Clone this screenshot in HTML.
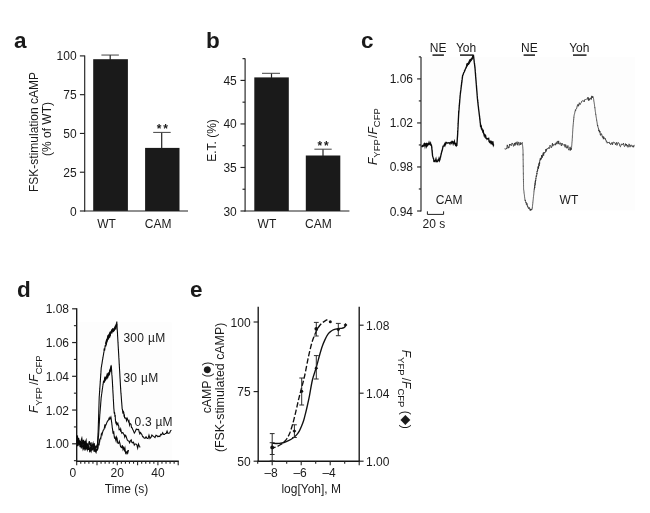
<!DOCTYPE html>
<html><head><meta charset="utf-8"><title>Figure</title>
<style>html,body{margin:0;padding:0;background:#fff}svg{display:block}</style></head>
<body>
<svg width="650" height="513" viewBox="0 0 650 513" font-family="&quot;Liberation Sans&quot;, sans-serif" fill="#1a1a1a">
<rect width="650" height="513" fill="#fff"/>
<rect x="421.5" y="57" width="213.3" height="153.5" fill="#fdfdfd"/>
<rect x="77.3" y="322.2" width="94.4" height="138.4" fill="#fdfdfd"/>
<text x="14.00" y="47.60" font-size="22.5" text-anchor="start" font-weight="bold" >a</text>
<text x="206.00" y="47.60" font-size="22.5" text-anchor="start" font-weight="bold" >b</text>
<text x="361.00" y="47.60" font-size="22.5" text-anchor="start" font-weight="bold" >c</text>
<text x="17.00" y="296.60" font-size="22.5" text-anchor="start" font-weight="bold" >d</text>
<text x="190.00" y="296.60" font-size="22.5" text-anchor="start" font-weight="bold" >e</text>
<line x1="84.70" y1="55.40" x2="84.70" y2="211.50" stroke="#222" stroke-width="1.15" />
<line x1="84.20" y1="211.00" x2="188.00" y2="211.00" stroke="#222" stroke-width="1.15" />
<line x1="79.90" y1="211.00" x2="84.70" y2="211.00" stroke="#222" stroke-width="1.15" />
<text x="76.60" y="215.50" font-size="12" text-anchor="end" >0</text>
<line x1="79.90" y1="172.22" x2="84.70" y2="172.22" stroke="#222" stroke-width="1.15" />
<text x="76.60" y="176.72" font-size="12" text-anchor="end" >25</text>
<line x1="79.90" y1="133.45" x2="84.70" y2="133.45" stroke="#222" stroke-width="1.15" />
<text x="76.60" y="137.95" font-size="12" text-anchor="end" >50</text>
<line x1="79.90" y1="94.67" x2="84.70" y2="94.67" stroke="#222" stroke-width="1.15" />
<text x="76.60" y="99.17" font-size="12" text-anchor="end" >75</text>
<line x1="79.90" y1="55.90" x2="84.70" y2="55.90" stroke="#222" stroke-width="1.15" />
<text x="76.60" y="60.40" font-size="12" text-anchor="end" >100</text>
<rect x="93.2" y="59.2" width="34.7" height="151.70" fill="#1a1a1a"/>
<rect x="145.1" y="147.9" width="34.4" height="63.10" fill="#1a1a1a"/>
<line x1="110.20" y1="55.00" x2="110.20" y2="60.00" stroke="#222" stroke-width="1.2" />
<line x1="101.40" y1="55.05" x2="118.90" y2="55.05" stroke="#444" stroke-width="1" />
<line x1="161.70" y1="132.40" x2="161.70" y2="148.50" stroke="#222" stroke-width="1.2" />
<line x1="153.20" y1="132.40" x2="170.70" y2="132.40" stroke="#444" stroke-width="1" />
<text x="156.80" y="132.70" font-size="12" text-anchor="start" font-weight="bold" letter-spacing="1.7">**</text>
<text x="106.50" y="227.70" font-size="12" text-anchor="middle" >WT</text>
<text x="158.20" y="227.70" font-size="12" text-anchor="middle" >CAM</text>
<text transform="translate(37.60,132.00) rotate(-90)" font-size="12" text-anchor="middle">FSK-stimulation cAMP</text>
<text transform="translate(51.40,129.00) rotate(-90)" font-size="12" text-anchor="middle">(% of WT)</text>
<line x1="245.10" y1="58.40" x2="245.10" y2="211.50" stroke="#222" stroke-width="1.15" />
<line x1="244.60" y1="211.00" x2="349.40" y2="211.00" stroke="#222" stroke-width="1.15" />
<line x1="240.50" y1="211.00" x2="245.10" y2="211.00" stroke="#222" stroke-width="1.15" />
<text x="236.80" y="215.50" font-size="12" text-anchor="end" >30</text>
<line x1="240.50" y1="167.47" x2="245.10" y2="167.47" stroke="#222" stroke-width="1.15" />
<text x="236.80" y="171.97" font-size="12" text-anchor="end" >35</text>
<line x1="240.50" y1="123.94" x2="245.10" y2="123.94" stroke="#222" stroke-width="1.15" />
<text x="236.80" y="128.44" font-size="12" text-anchor="end" >40</text>
<line x1="240.50" y1="80.41" x2="245.10" y2="80.41" stroke="#222" stroke-width="1.15" />
<text x="236.80" y="84.91" font-size="12" text-anchor="end" >45</text>
<line x1="242.50" y1="189.24" x2="245.10" y2="189.24" stroke="#222" stroke-width="1.15" />
<line x1="242.50" y1="145.70" x2="245.10" y2="145.70" stroke="#222" stroke-width="1.15" />
<line x1="242.50" y1="102.17" x2="245.10" y2="102.17" stroke="#222" stroke-width="1.15" />
<line x1="242.50" y1="58.65" x2="245.10" y2="58.65" stroke="#222" stroke-width="1.15" />
<rect x="254.3" y="77.4" width="34.5" height="133.60" fill="#1a1a1a"/>
<rect x="305.8" y="155.5" width="34.5" height="55.50" fill="#1a1a1a"/>
<line x1="271.50" y1="73.30" x2="271.50" y2="78.00" stroke="#222" stroke-width="1.2" />
<line x1="262.00" y1="73.30" x2="280.00" y2="73.30" stroke="#444" stroke-width="1" />
<line x1="323.00" y1="149.20" x2="323.00" y2="156.00" stroke="#222" stroke-width="1.2" />
<line x1="314.40" y1="149.20" x2="331.70" y2="149.20" stroke="#444" stroke-width="1" />
<text x="317.60" y="149.70" font-size="12" text-anchor="start" font-weight="bold" letter-spacing="1.7">**</text>
<text x="266.90" y="227.70" font-size="12" text-anchor="middle" >WT</text>
<text x="318.40" y="227.70" font-size="12" text-anchor="middle" >CAM</text>
<text transform="translate(215.80,140.50) rotate(-90)" font-size="12" text-anchor="middle">E.T. (%)</text>
<line x1="421.00" y1="56.90" x2="421.00" y2="211.50" stroke="#222" stroke-width="1.15" />
<line x1="417.10" y1="211.00" x2="421.00" y2="211.00" stroke="#222" stroke-width="1.15" />
<text x="413.00" y="215.50" font-size="12" text-anchor="end" >0.94</text>
<line x1="417.10" y1="166.97" x2="421.00" y2="166.97" stroke="#222" stroke-width="1.15" />
<text x="413.00" y="171.47" font-size="12" text-anchor="end" >0.98</text>
<line x1="417.10" y1="122.94" x2="421.00" y2="122.94" stroke="#222" stroke-width="1.15" />
<text x="413.00" y="127.44" font-size="12" text-anchor="end" >1.02</text>
<line x1="417.10" y1="78.91" x2="421.00" y2="78.91" stroke="#222" stroke-width="1.15" />
<text x="413.00" y="83.41" font-size="12" text-anchor="end" >1.06</text>
<line x1="418.80" y1="188.98" x2="421.00" y2="188.98" stroke="#222" stroke-width="1.15" />
<line x1="418.80" y1="144.95" x2="421.00" y2="144.95" stroke="#222" stroke-width="1.15" />
<line x1="418.80" y1="100.92" x2="421.00" y2="100.92" stroke="#222" stroke-width="1.15" />
<line x1="418.80" y1="56.89" x2="421.00" y2="56.89" stroke="#222" stroke-width="1.15" />
<text transform="translate(376.70,165.00) rotate(-90)" font-size="12" text-anchor="start"><tspan font-style="italic">F</tspan><tspan font-size="9.5" dy="3.5">YFP</tspan><tspan dy="-3.5" dx="1.3">/</tspan><tspan font-style="italic">F</tspan><tspan font-size="9.5" dy="3.5">CFP</tspan></text>
<text x="438.20" y="51.90" font-size="12" text-anchor="middle" >NE</text>
<line x1="432.50" y1="55.10" x2="443.90" y2="55.10" stroke="#1a1a1a" stroke-width="1.5" />
<text x="466.00" y="51.90" font-size="12" text-anchor="middle" >Yoh</text>
<line x1="460.00" y1="55.10" x2="473.50" y2="55.10" stroke="#1a1a1a" stroke-width="1.5" />
<text x="529.40" y="51.90" font-size="12" text-anchor="middle" >NE</text>
<line x1="523.60" y1="55.10" x2="535.00" y2="55.10" stroke="#1a1a1a" stroke-width="1.5" />
<text x="579.30" y="51.90" font-size="12" text-anchor="middle" >Yoh</text>
<line x1="573.00" y1="55.10" x2="586.50" y2="55.10" stroke="#1a1a1a" stroke-width="1.5" />
<text x="449.10" y="203.50" font-size="12" text-anchor="middle" >CAM</text>
<text x="568.90" y="203.50" font-size="12" text-anchor="middle" >WT</text>
<polyline points="427.4,211.3 427.4,214.4 443.6,214.4 443.6,211.3" fill="none" stroke="#222" stroke-width="1"/>
<text x="433.90" y="227.70" font-size="12" text-anchor="middle" >20 s</text>
<polyline points="421.60,145.61 422.09,146.44 422.58,145.64 423.07,146.22 423.56,146.08 424.04,143.97 424.53,143.58 425.02,146.17 425.51,143.99 426.00,143.70 426.51,146.13 427.02,144.19 427.53,145.28 428.04,143.90 428.56,144.30 429.07,142.48 429.58,143.97 430.09,144.61 430.60,143.21 430.80,143.90 431.00,144.42 431.20,144.62 431.40,145.59 431.60,146.05 431.65,146.38 431.70,146.72 431.75,147.72 431.80,147.98 431.85,148.63 431.90,149.23 431.95,149.63 432.00,150.25 432.05,150.44 432.10,151.18 432.15,151.47 432.20,152.26 432.25,152.73 432.30,152.76 432.35,153.28 432.40,153.83 432.45,154.78 432.50,154.96 432.55,155.58 432.60,155.88 432.76,156.48 432.93,156.88 433.09,157.34 433.25,157.95 433.41,158.43 433.57,159.09 433.74,159.43 433.90,161.26 434.42,161.08 434.93,161.60 435.45,160.58 435.97,158.92 436.48,161.36 437.00,161.78 437.50,161.41 438.00,160.10 438.50,160.43 439.00,158.55 439.50,160.49 440.00,159.24 440.12,158.55 440.24,157.90 440.36,157.85 440.48,157.41 440.60,156.35 440.72,156.26 440.84,155.51 440.96,154.83 441.08,154.40 441.20,154.16 441.33,153.72 441.46,152.73 441.59,152.57 441.71,151.73 441.84,151.63 441.97,150.90 442.10,150.73 442.23,150.29 442.36,149.50 442.49,149.30 442.61,148.39 442.74,147.75 442.87,147.56 443.00,146.25 443.32,146.10 443.64,146.01 443.96,145.92 444.28,144.77 444.60,144.17 444.92,145.07 445.24,143.76 445.56,144.37 445.88,143.85 446.20,142.38 446.74,142.61 447.29,142.75 447.83,143.12 448.37,142.90 448.91,142.72 449.46,142.87 450.00,143.90 450.53,142.39 451.07,142.10 451.60,143.05 452.13,141.37 452.67,141.56 453.20,143.82 453.60,142.63 454.00,143.08 454.40,141.62 454.80,143.35 455.20,144.27 455.52,142.77 455.84,145.19 456.16,145.65 456.48,144.10 456.80,146.08 456.84,145.48 456.87,145.11 456.91,144.41 456.95,144.12 456.98,143.64 457.02,142.71 457.05,142.24 457.09,142.11 457.13,141.78 457.16,140.85 457.20,140.47 457.24,140.06 457.27,139.39 457.31,138.92 457.35,138.39 457.38,137.92 457.42,137.56 457.45,136.88 457.49,136.43 457.53,136.16 457.56,135.22 457.60,135.04 457.63,134.64 457.65,133.88 457.68,133.32 457.70,133.16 457.73,132.32 457.75,131.78 457.78,131.43 457.80,131.08 457.83,130.22 457.86,129.85 457.88,129.35 457.91,129.14 457.93,128.40 457.96,128.15 457.98,127.23 458.01,126.83 458.03,126.51 458.06,126.15 458.09,125.38 458.11,124.74 458.14,124.17 458.16,123.92 458.19,123.21 458.21,123.07 458.24,122.59 458.27,121.69 458.29,121.24 458.32,121.05 458.34,120.45 458.37,120.04 458.39,119.26 458.42,118.63 458.44,118.22 458.47,118.02 458.50,117.20 458.52,116.74 458.55,116.28 458.57,115.78 458.60,115.26 458.62,115.07 458.65,114.10 458.67,113.51 458.70,113.57 458.74,113.02 458.78,112.58 458.82,111.74 458.87,111.54 458.91,111.01 458.95,110.08 458.99,109.89 459.03,109.44 459.07,108.82 459.12,108.23 459.16,107.58 459.20,107.10 459.24,106.53 459.28,105.92 459.32,105.73 459.37,105.04 459.41,104.84 459.45,103.88 459.49,103.88 459.53,103.25 459.57,102.88 459.62,102.35 459.66,101.85 459.70,101.15 459.74,100.30 459.78,100.23 459.82,99.38 459.87,98.95 459.91,98.66 459.95,98.06 459.99,97.49 460.03,97.30 460.07,96.59 460.12,95.92 460.16,95.36 460.20,95.22 460.26,94.48 460.33,94.16 460.39,93.40 460.45,92.81 460.52,92.51 460.58,92.17 460.64,91.28 460.71,91.15 460.77,90.73 460.83,90.16 460.89,89.67 460.96,88.67 461.02,88.54 461.08,88.18 461.15,87.19 461.21,86.82 461.27,86.32 461.34,85.97 461.40,85.40 461.46,84.93 461.53,84.61 461.59,83.64 461.65,83.17 461.72,82.71 461.78,82.21 461.84,81.67 461.91,81.71 461.97,81.14 462.03,80.18 462.09,79.92 462.16,79.31 462.22,78.80 462.28,78.32 462.35,78.00 462.41,77.46 462.47,76.82 462.54,76.22 462.60,75.76 462.79,75.11 462.98,74.96 463.17,74.60 463.36,73.84 463.55,73.11 463.74,72.70 463.93,72.37 464.12,72.06 464.31,71.72 464.50,70.88 464.72,70.83 464.94,70.19 465.17,69.53 465.39,69.01 465.61,68.66 465.83,68.40 466.06,67.65 466.28,67.46 466.50,66.75 466.79,66.04 467.08,65.94 467.38,65.68 467.67,64.49 467.96,64.46 468.25,64.01 468.54,64.11 468.83,63.72 469.12,62.60 469.42,62.78 469.71,62.20 470.00,61.11 470.27,60.93 470.54,60.09 470.81,60.48 471.08,59.87 471.35,59.71 471.62,59.17 471.88,58.59 472.15,58.23 472.42,57.60 472.69,56.62 472.96,56.77 473.23,55.64 473.50,55.59 473.56,56.47 473.62,56.54 473.69,57.08 473.75,57.59 473.81,58.57 473.88,58.66 473.94,59.07 474.00,60.07 474.06,60.15 474.12,61.09 474.19,61.50 474.25,62.10 474.31,62.68 474.38,62.96 474.44,63.60 474.50,63.66 474.56,64.60 474.62,64.96 474.69,65.59 474.75,65.73 474.81,66.62 474.88,67.24 474.94,67.23 475.00,67.89 475.04,68.54 475.08,69.20 475.12,69.35 475.16,69.81 475.20,70.35 475.24,71.07 475.28,71.65 475.32,71.94 475.36,72.42 475.40,72.94 475.44,73.41 475.48,73.95 475.52,74.25 475.56,75.00 475.60,75.78 475.64,75.95 475.68,76.65 475.72,76.80 475.76,77.61 475.80,78.15 475.84,78.60 475.88,79.01 475.92,79.49 475.96,80.09 476.00,80.74 476.04,80.79 476.08,81.26 476.12,82.15 476.16,82.75 476.20,83.01 476.24,83.47 476.28,84.13 476.32,84.31 476.36,84.86 476.40,85.32 476.44,86.05 476.48,86.39 476.52,86.84 476.56,87.61 476.60,88.27 476.64,88.38 476.68,89.12 476.72,89.45 476.76,90.21 476.80,90.55 476.84,90.86 476.88,91.33 476.92,91.71 476.96,92.49 477.00,92.93 477.04,93.30 477.08,93.92 477.12,94.39 477.16,95.16 477.20,95.29 477.24,96.29 477.28,96.49 477.32,97.06 477.36,97.48 477.40,98.20 477.45,98.69 477.51,99.03 477.56,99.49 477.61,100.13 477.67,100.71 477.72,100.94 477.77,101.64 477.83,102.28 477.88,102.48 477.93,102.84 477.99,103.34 478.04,104.13 478.09,104.61 478.15,105.28 478.20,105.71 478.26,105.85 478.32,106.31 478.38,106.86 478.44,107.31 478.50,108.12 478.56,108.72 478.62,109.24 478.68,109.35 478.74,110.22 478.80,110.39 478.86,110.95 478.92,111.64 478.98,111.75 479.04,112.26 479.10,113.20 479.16,113.38 479.22,113.91 479.28,114.55 479.34,115.11 479.40,115.20 479.46,115.90 479.52,116.46 479.58,116.99 479.64,117.33 479.70,118.05 479.76,118.77 479.81,118.93 479.87,119.53 479.93,119.77 479.99,120.36 480.04,121.10 480.10,121.27 480.16,122.23 480.21,122.75 480.27,122.76 480.33,123.76 480.39,123.92 480.44,124.66 480.50,125.41 480.67,125.17 480.85,126.28 481.02,126.75 481.19,127.49 481.36,127.12 481.54,128.41 481.71,129.24 481.88,129.28 482.05,129.56 482.23,129.38 482.40,130.48 482.60,130.55 482.80,132.03 483.00,132.38 483.20,132.53 483.40,131.91 483.60,133.67 483.80,134.09 484.00,133.28 484.20,135.73 484.40,135.72 484.72,134.03 485.05,137.70 485.38,134.98 485.70,136.18 486.02,138.17 486.35,138.11 486.68,138.38 487.00,139.25 487.41,138.80 487.83,138.55 488.24,138.33 488.66,138.24 489.07,141.48 489.49,142.03 489.90,141.47 490.29,142.58 490.68,141.38 491.07,141.32 491.46,142.11 491.85,144.39 492.24,141.39 492.63,143.56 493.02,142.85 493.41,145.26 493.80,144.50" fill="none" stroke="#0a0a0a" stroke-width="1.35" stroke-linejoin="miter" stroke-miterlimit="5" />
<polygon points="465.6,68.6 466.3,63.6 468.2,62.4 469.2,59.6 471.2,58.6 473.6,55.2 473.4,58.4 470,62.2 467.6,65.6" fill="#111"/>
<polyline points="504.50,148.72 504.96,148.99 505.42,148.99 505.88,149.38 506.33,148.31 506.79,148.85 507.25,144.87 507.71,146.48 508.17,148.26 508.62,146.80 509.08,147.63 509.54,144.10 510.00,145.37 510.50,144.31 511.00,145.43 511.50,145.44 512.00,142.96 512.50,143.69 513.00,143.82 513.50,146.37 514.00,145.62 514.50,142.95 515.00,145.50 515.50,142.61 516.00,144.49 516.52,142.32 517.05,141.69 517.58,145.23 518.10,142.35 518.62,142.26 519.15,145.38 519.67,144.81 520.20,142.25 520.72,144.96 521.25,143.08 521.77,143.56 522.30,142.46 522.35,143.57 522.40,143.90 522.45,144.64 522.50,145.10 522.55,145.15 522.60,145.72 522.65,146.08 522.70,146.59 522.75,147.04 522.80,147.76 522.85,148.52 522.90,148.56 522.95,149.62 523.00,149.87 523.01,150.35 523.02,151.25 523.02,151.48 523.03,151.85 523.04,152.48 523.05,153.16 523.05,153.15 523.06,154.38 523.07,154.12 523.08,155.20 523.08,155.78 523.09,155.61 523.10,156.73 523.11,156.89 523.12,157.56 523.12,157.61 523.13,158.14 523.14,158.74 523.15,159.86 523.15,159.76 523.16,160.70 523.17,161.34 523.18,161.85 523.18,161.88 523.19,162.38 523.20,163.02 523.21,163.72 523.22,163.69 523.22,164.70 523.23,165.24 523.24,165.79 523.25,165.63 523.25,166.86 523.26,166.67 523.27,167.37 523.28,168.09 523.28,168.83 523.29,168.87 523.30,169.84 523.31,170.04 523.32,170.35 523.32,170.85 523.33,171.24 523.34,171.66 523.35,172.22 523.35,173.15 523.36,173.90 523.37,173.73 523.38,174.14 523.38,175.39 523.39,175.53 523.40,175.92 523.41,176.29 523.42,177.08 523.42,177.76 523.43,177.96 523.44,178.44 523.45,178.64 523.45,179.83 523.46,179.63 523.47,180.49 523.48,181.27 523.48,181.20 523.49,182.19 523.50,182.86 523.51,183.10 523.52,183.73 523.52,183.69 523.53,184.45 523.54,184.72 523.55,185.78 523.55,185.84 523.56,186.46 523.57,187.40 523.58,187.78 523.58,188.38 523.59,188.46 523.60,188.99 523.66,189.68 523.73,189.98 523.79,190.33 523.85,190.92 523.92,191.22 523.98,191.90 524.05,192.89 524.11,193.37 524.17,193.60 524.24,194.00 524.30,194.37 524.36,194.67 524.43,195.32 524.49,196.23 524.55,196.79 524.62,196.89 524.68,197.73 524.75,198.22 524.81,198.66 524.87,199.13 524.94,199.71 525.00,199.62 525.19,201.03 525.38,200.31 525.58,201.34 525.77,202.60 525.96,202.84 526.15,202.19 526.35,204.48 526.54,204.11 526.73,204.38 526.92,203.25 527.12,205.21 527.31,204.84 527.50,206.72 527.83,206.23 528.17,208.11 528.50,207.79 528.83,208.81 529.17,207.31 529.50,208.94 529.83,209.72 530.17,210.49 530.50,208.87 530.82,210.49 531.13,210.15 531.45,208.94 531.77,209.70 532.08,209.17 532.40,206.81 532.46,206.31 532.51,205.51 532.57,205.54 532.62,205.11 532.68,204.23 532.73,203.89 532.79,203.40 532.84,202.90 532.90,201.94 532.95,201.92 533.01,201.25 533.06,200.81 533.12,200.10 533.17,199.75 533.23,199.36 533.28,198.74 533.34,198.30 533.39,197.24 533.45,196.83 533.50,196.55 533.56,196.20 533.61,195.35 533.67,195.21 533.72,194.66 533.78,193.67 533.83,193.51 533.89,192.80 533.94,192.15 534.00,190.97 534.07,190.98 534.14,190.09 534.21,189.61 534.28,188.66 534.35,189.35 534.42,188.60 534.49,188.74 534.56,188.16 534.63,186.67 534.70,188.02 534.77,184.98 534.84,185.60 534.91,184.74 534.99,184.59 535.06,183.26 535.13,184.75 535.20,182.96 535.27,181.50 535.34,182.61 535.41,180.64 535.48,181.39 535.55,180.31 535.62,180.47 535.69,181.02 535.76,180.11 535.83,178.48 535.90,179.08 536.00,178.09 536.11,176.81 536.22,175.67 536.32,176.43 536.42,175.83 536.53,176.42 536.63,175.94 536.74,174.42 536.85,173.19 536.95,174.20 537.05,171.19 537.16,170.98 537.26,171.75 537.37,171.38 537.48,169.54 537.58,170.40 537.68,170.63 537.79,168.67 537.89,168.32 538.00,166.85 538.13,166.62 538.27,168.98 538.40,166.00 538.53,167.94 538.67,167.24 538.80,165.40 538.93,163.49 539.07,166.02 539.20,163.48 539.33,162.65 539.47,161.74 539.60,164.03 539.73,161.47 539.87,160.10 540.00,160.40 540.23,158.45 540.46,160.09 540.69,158.88 540.92,157.78 541.15,159.38 541.38,159.10 541.62,155.22 541.85,156.94 542.08,155.40 542.31,157.71 542.54,156.61 542.77,153.89 543.00,153.52 543.32,152.63 543.63,155.72 543.95,152.38 544.27,153.29 544.58,152.31 544.90,152.61 545.22,152.02 545.53,152.19 545.85,149.15 546.17,151.43 546.48,149.08 546.80,149.64 547.20,148.50 547.60,148.03 548.00,148.70 548.40,148.12 548.80,147.38 549.20,148.68 549.60,147.73 550.00,145.09 550.40,145.69 550.80,146.24 551.20,147.86 551.60,147.44 552.00,145.69 552.44,143.21 552.88,146.16 553.32,144.43 553.75,144.80 554.19,145.11 554.63,144.53 555.07,143.65 555.51,145.20 555.95,142.73 556.38,142.51 556.82,144.19 557.26,141.18 557.70,141.35 558.18,143.84 558.66,140.89 559.13,144.38 559.61,144.04 560.09,143.20 560.57,142.84 561.04,145.17 561.52,145.97 562.00,143.00 562.45,144.64 562.91,145.16 563.36,145.17 563.82,144.70 564.27,144.18 564.73,146.22 565.18,147.40 565.64,144.51 566.09,145.41 566.55,148.12 567.00,148.23 567.44,147.94 567.88,145.51 568.32,148.68 568.76,150.01 569.20,150.34 569.64,149.35 570.08,146.86 570.52,150.44 570.96,148.07 571.40,149.62 571.44,149.36 571.48,148.67 571.53,147.71 571.57,147.33 571.61,147.33 571.65,146.22 571.69,146.09 571.74,145.43 571.78,144.73 571.82,144.60 571.86,143.63 571.91,143.19 571.95,142.90 571.99,142.16 572.03,141.65 572.07,141.56 572.12,141.19 572.16,140.80 572.20,139.71 572.23,139.45 572.26,138.85 572.29,138.58 572.32,137.99 572.35,137.85 572.38,136.90 572.40,136.14 572.43,136.16 572.46,135.22 572.49,135.11 572.52,134.50 572.55,134.33 572.58,133.54 572.61,133.10 572.64,132.31 572.67,132.04 572.70,131.30 572.73,131.20 572.75,130.51 572.78,129.71 572.81,129.29 572.84,128.90 572.87,128.69 572.90,127.74 572.95,127.67 572.99,127.12 573.04,126.17 573.08,126.13 573.13,125.17 573.17,124.70 573.22,124.58 573.27,123.79 573.31,123.80 573.36,122.98 573.40,122.36 573.45,122.24 573.50,121.12 573.54,121.18 573.59,120.14 573.63,119.72 573.68,119.86 573.73,119.14 573.77,118.28 573.82,117.69 573.86,117.88 573.91,117.13 573.95,116.76 574.00,115.71 574.12,115.60 574.23,114.88 574.35,114.29 574.47,113.87 574.58,113.59 574.70,112.88 574.82,112.41 574.93,111.71 575.05,111.76 575.17,111.12 575.28,110.74 575.40,109.81 575.66,110.55 575.92,109.18 576.17,108.96 576.43,108.47 576.69,108.51 576.95,107.11 577.21,105.84 577.47,105.23 577.73,105.27 577.98,104.38 578.24,106.32 578.50,104.75 578.92,105.20 579.34,102.73 579.77,103.72 580.19,104.56 580.61,103.47 581.03,102.60 581.46,102.37 581.88,101.01 582.30,100.83 582.77,100.61 583.25,100.98 583.72,100.78 584.20,101.93 584.67,99.66 585.15,99.71 585.62,99.54 586.10,98.99 586.58,99.10 587.05,98.73 587.52,99.18 588.00,97.03 588.47,100.59 588.95,98.07 589.42,100.27 589.89,99.02 590.36,98.78 590.84,97.74 591.31,99.53 591.78,95.87 592.25,97.99 592.73,96.21 593.20,97.04 593.28,97.59 593.37,97.65 593.45,98.19 593.53,98.55 593.62,99.23 593.70,99.61 593.78,100.38 593.87,101.35 593.95,101.37 594.03,101.83 594.12,102.47 594.20,102.83 594.27,103.69 594.34,104.17 594.40,104.23 594.47,104.79 594.54,105.64 594.61,106.35 594.68,106.62 594.74,106.94 594.81,107.88 594.88,107.61 594.95,108.15 595.02,109.22 595.08,109.43 595.15,109.64 595.22,110.54 595.29,111.39 595.36,111.52 595.42,111.88 595.49,112.18 595.56,112.66 595.63,113.82 595.70,113.99 595.76,114.85 595.83,114.64 595.90,115.29 595.98,115.64 596.06,116.42 596.14,116.65 596.22,117.30 596.30,117.93 596.39,118.34 596.47,118.64 596.55,119.13 596.63,120.38 596.71,120.24 596.79,121.01 596.87,121.42 596.95,122.03 597.03,122.17 597.11,122.85 597.20,123.19 597.28,124.03 597.36,124.84 597.44,125.08 597.52,125.79 597.60,125.20 597.76,125.13 597.92,127.07 598.08,127.40 598.24,128.12 598.40,128.05 598.56,129.23 598.72,129.99 598.88,131.00 599.04,129.78 599.20,130.66 599.36,132.19 599.52,130.99 599.68,131.16 599.84,132.19 600.00,131.47 600.27,134.78 600.55,135.41 600.82,133.72 601.09,133.39 601.36,133.63 601.64,134.75 601.91,134.51 602.18,136.39 602.45,137.45 602.73,136.49 603.00,136.16 603.38,139.18 603.76,136.78 604.14,137.76 604.52,138.46 604.90,139.17 605.28,138.35 605.66,140.05 606.04,139.94 606.42,142.12 606.80,141.64 607.28,143.23 607.75,142.39 608.23,143.00 608.71,142.39 609.18,142.00 609.66,143.75 610.14,143.24 610.62,144.66 611.09,143.88 611.57,143.94 612.05,142.29 612.52,144.74 613.00,143.11 613.49,142.13 613.99,141.95 614.48,142.47 614.97,142.95 615.47,144.77 615.96,143.22 616.45,142.37 616.95,145.40 617.44,144.62 617.93,142.48 618.43,142.67 618.92,143.09 619.41,144.13 619.91,146.32 620.40,146.79 620.91,145.41 621.41,143.85 621.92,144.72 622.43,144.48 622.93,144.39 623.44,143.09 623.95,145.53 624.45,146.59 624.96,146.21 625.47,143.60 625.97,145.47 626.48,144.00 626.99,146.30 627.49,145.23 628.00,147.34 628.51,146.71 629.02,143.85 629.52,144.66 630.03,147.15 630.54,145.22 631.05,145.08 631.55,145.09 632.06,146.44 632.57,147.12 633.08,145.41 633.58,147.22 634.09,145.63 634.60,145.20" fill="none" stroke="#2a2a2a" stroke-width="0.8" stroke-linejoin="miter" stroke-miterlimit="5" />
<line x1="76.70" y1="308.20" x2="76.70" y2="461.85" stroke="#151515" stroke-width="1.35" />
<line x1="76.05" y1="461.20" x2="178.80" y2="461.20" stroke="#151515" stroke-width="1.35" />
<line x1="72.10" y1="443.80" x2="76.70" y2="443.80" stroke="#222" stroke-width="1.2" />
<text x="69.00" y="448.30" font-size="12" text-anchor="end" >1.00</text>
<line x1="72.10" y1="410.05" x2="76.70" y2="410.05" stroke="#222" stroke-width="1.2" />
<text x="69.00" y="414.55" font-size="12" text-anchor="end" >1.02</text>
<line x1="72.10" y1="376.30" x2="76.70" y2="376.30" stroke="#222" stroke-width="1.2" />
<text x="69.00" y="380.80" font-size="12" text-anchor="end" >1.04</text>
<line x1="72.10" y1="342.55" x2="76.70" y2="342.55" stroke="#222" stroke-width="1.2" />
<text x="69.00" y="347.05" font-size="12" text-anchor="end" >1.06</text>
<line x1="72.10" y1="308.80" x2="76.70" y2="308.80" stroke="#222" stroke-width="1.2" />
<text x="69.00" y="313.30" font-size="12" text-anchor="end" >1.08</text>
<line x1="73.90" y1="460.68" x2="76.70" y2="460.68" stroke="#222" stroke-width="1.1" />
<line x1="73.90" y1="426.93" x2="76.70" y2="426.93" stroke="#222" stroke-width="1.1" />
<line x1="73.90" y1="393.17" x2="76.70" y2="393.17" stroke="#222" stroke-width="1.1" />
<line x1="73.90" y1="359.42" x2="76.70" y2="359.42" stroke="#222" stroke-width="1.1" />
<line x1="73.90" y1="325.67" x2="76.70" y2="325.67" stroke="#222" stroke-width="1.1" />
<line x1="76.70" y1="461.20" x2="76.70" y2="465.20" stroke="#222" stroke-width="1.1" />
<line x1="80.76" y1="461.20" x2="80.76" y2="463.70" stroke="#222" stroke-width="1.1" />
<line x1="84.82" y1="461.20" x2="84.82" y2="463.70" stroke="#222" stroke-width="1.1" />
<line x1="88.88" y1="461.20" x2="88.88" y2="463.70" stroke="#222" stroke-width="1.1" />
<line x1="92.94" y1="461.20" x2="92.94" y2="463.70" stroke="#222" stroke-width="1.1" />
<line x1="97.00" y1="461.20" x2="97.00" y2="465.20" stroke="#222" stroke-width="1.1" />
<line x1="101.06" y1="461.20" x2="101.06" y2="463.70" stroke="#222" stroke-width="1.1" />
<line x1="105.12" y1="461.20" x2="105.12" y2="463.70" stroke="#222" stroke-width="1.1" />
<line x1="109.18" y1="461.20" x2="109.18" y2="463.70" stroke="#222" stroke-width="1.1" />
<line x1="113.24" y1="461.20" x2="113.24" y2="463.70" stroke="#222" stroke-width="1.1" />
<line x1="117.30" y1="461.20" x2="117.30" y2="465.20" stroke="#222" stroke-width="1.1" />
<line x1="121.36" y1="461.20" x2="121.36" y2="463.70" stroke="#222" stroke-width="1.1" />
<line x1="125.42" y1="461.20" x2="125.42" y2="463.70" stroke="#222" stroke-width="1.1" />
<line x1="129.48" y1="461.20" x2="129.48" y2="463.70" stroke="#222" stroke-width="1.1" />
<line x1="133.54" y1="461.20" x2="133.54" y2="463.70" stroke="#222" stroke-width="1.1" />
<line x1="137.60" y1="461.20" x2="137.60" y2="465.20" stroke="#222" stroke-width="1.1" />
<line x1="141.66" y1="461.20" x2="141.66" y2="463.70" stroke="#222" stroke-width="1.1" />
<line x1="145.72" y1="461.20" x2="145.72" y2="463.70" stroke="#222" stroke-width="1.1" />
<line x1="149.78" y1="461.20" x2="149.78" y2="463.70" stroke="#222" stroke-width="1.1" />
<line x1="153.84" y1="461.20" x2="153.84" y2="463.70" stroke="#222" stroke-width="1.1" />
<line x1="157.90" y1="461.20" x2="157.90" y2="465.20" stroke="#222" stroke-width="1.1" />
<line x1="161.96" y1="461.20" x2="161.96" y2="463.70" stroke="#222" stroke-width="1.1" />
<line x1="166.02" y1="461.20" x2="166.02" y2="463.70" stroke="#222" stroke-width="1.1" />
<line x1="170.08" y1="461.20" x2="170.08" y2="463.70" stroke="#222" stroke-width="1.1" />
<line x1="174.14" y1="461.20" x2="174.14" y2="463.70" stroke="#222" stroke-width="1.1" />
<line x1="178.20" y1="461.20" x2="178.20" y2="465.20" stroke="#222" stroke-width="1.1" />
<text x="72.90" y="477.40" font-size="12" text-anchor="middle" >0</text>
<text x="117.30" y="477.40" font-size="12" text-anchor="middle" >20</text>
<text x="157.90" y="477.40" font-size="12" text-anchor="middle" >40</text>
<text x="126.60" y="493.00" font-size="12" text-anchor="middle" >Time (s)</text>
<text transform="translate(38.00,413.00) rotate(-90)" font-size="12" text-anchor="start"><tspan font-style="italic">F</tspan><tspan font-size="9.5" dy="3.5">YFP</tspan><tspan dy="-3.5" dx="2.2">/</tspan><tspan font-style="italic">F</tspan><tspan font-size="9.5" dy="3.5">CFP</tspan></text>
<text x="123.40" y="341.90" font-size="12" text-anchor="start" letter-spacing="0.3">300 µM</text>
<text x="123.40" y="381.90" font-size="12" text-anchor="start" letter-spacing="0.3">30 µM</text>
<text x="134.60" y="426.20" font-size="12" text-anchor="start" letter-spacing="0.2">0.3 µM</text>
<polyline points="76.80,435.42 77.24,440.75 77.68,440.74 78.12,439.81 78.56,437.89 79.00,443.69 79.57,444.19 80.14,441.83 80.71,442.12 81.29,440.00 81.86,438.21 82.43,441.96 83.00,444.29 83.62,439.72 84.25,446.58 84.88,441.60 85.50,441.79 86.12,440.23 86.75,449.20 87.38,447.01 88.00,448.45 88.62,446.25 89.25,441.09 89.88,443.99 90.50,445.73 91.12,442.40 91.75,450.28 92.38,445.10 93.00,443.32 93.61,449.56 94.23,443.33 94.84,450.87 95.46,446.64 96.07,447.69 96.69,445.91 97.30,447.47 97.35,446.62 97.39,445.95 97.44,444.71 97.49,443.82 97.54,442.96 97.58,441.75 97.63,441.06 97.68,440.22 97.73,439.42 97.77,438.01 97.82,437.23 97.87,436.16 97.92,435.74 97.96,434.74 98.01,433.36 98.06,433.10 98.11,432.17 98.15,431.03 98.20,430.08 98.23,428.86 98.26,427.85 98.28,427.31 98.31,426.08 98.34,425.27 98.37,424.40 98.39,423.35 98.42,422.75 98.45,421.83 98.48,421.21 98.51,420.08 98.53,419.26 98.56,418.26 98.59,417.47 98.62,416.43 98.64,415.40 98.67,415.00 98.70,414.10 98.73,413.09 98.76,412.09 98.78,410.91 98.81,409.95 98.84,409.09 98.87,408.03 98.89,407.62 98.92,406.46 98.95,405.87 98.98,404.64 99.01,404.14 99.03,403.16 99.06,401.66 99.09,400.91 99.12,400.50 99.14,399.28 99.17,398.74 99.20,397.43 99.26,396.29 99.33,395.76 99.39,394.95 99.45,393.68 99.51,392.63 99.58,391.89 99.64,391.42 99.70,390.36 99.76,388.99 99.83,388.17 99.89,387.15 99.95,386.20 100.01,385.80 100.08,384.46 100.14,383.81 100.20,382.81 100.26,381.72 100.33,381.18 100.39,379.84 100.45,379.29 100.51,378.00 100.58,377.30 100.64,376.24 100.70,375.36 100.76,374.94 100.83,373.91 100.89,372.64 100.95,372.13 101.01,370.74 101.08,369.96 101.14,369.36 101.20,368.30 101.35,367.00 101.51,366.70 101.66,365.24 101.81,364.35 101.96,363.79 102.12,362.55 102.27,361.61 102.42,360.53 102.57,359.62 102.73,359.05 102.88,357.89 103.03,357.22 103.18,356.14 103.34,355.27 103.49,354.71 103.64,353.45 103.79,352.59 103.95,351.88 104.10,349.43 104.34,348.42 104.58,350.55 104.82,349.30 105.07,346.13 105.31,345.00 105.55,346.31 105.79,346.22 106.03,342.35 106.28,344.48 106.52,343.31 106.76,341.31 107.00,339.69 107.45,337.62 107.89,336.55 108.34,339.45 108.78,335.75 109.23,336.82 109.67,334.23 110.12,335.69 110.56,333.99 111.01,331.97 111.45,330.70 111.90,332.08 112.55,328.83 113.20,328.81 113.85,329.49 114.50,330.01 115.15,328.41 115.80,327.08 115.97,326.80 116.13,325.17 116.30,324.07 116.47,323.40 116.63,322.66 116.80,321.49 116.85,322.48 116.91,323.53 116.96,324.58 117.01,325.19 117.06,326.26 117.12,327.54 117.17,328.51 117.22,329.20 117.28,330.13 117.33,330.97 117.38,331.57 117.43,332.41 117.49,333.31 117.54,334.84 117.59,335.61 117.64,336.70 117.70,336.95 117.75,338.30 117.80,339.10 117.86,340.18 117.91,340.81 117.96,342.19 118.01,342.46 118.07,343.70 118.12,344.74 118.17,345.77 118.22,346.57 118.28,347.45 118.33,348.43 118.38,349.42 118.44,349.94 118.49,351.09 118.54,352.15 118.59,353.04 118.65,353.63 118.70,354.80 118.75,355.75 118.80,356.45 118.85,357.39 118.91,358.12 118.96,359.16 119.01,360.08 119.06,360.61 119.11,361.90 119.16,363.05 119.21,363.87 119.26,364.66 119.32,365.32 119.37,366.46 119.42,367.26 119.47,368.06 119.52,369.24 119.57,369.61 119.62,370.98 119.67,371.37 119.73,372.67 119.78,373.49 119.83,374.21 119.88,375.44 119.93,376.20 119.98,377.18 120.03,378.29 120.08,378.73 120.14,379.46 120.19,380.56 120.24,381.72 120.29,382.29 120.34,383.17 120.39,384.58 120.44,385.31 120.49,386.06 120.55,387.27 120.60,387.78 120.65,388.92 120.70,389.49 120.77,390.58 120.84,391.77 120.91,392.78 120.99,393.68 121.06,394.26 121.13,395.33 121.20,396.07 121.27,396.87 121.34,398.05 121.41,399.22 121.49,400.16 121.56,400.99 121.63,402.09 121.70,402.54 121.77,403.40 121.84,404.52 121.91,405.33 121.99,406.21 122.06,407.28 122.13,408.36 122.20,409.18 122.47,409.33 122.73,412.29 123.00,413.73 123.27,412.48 123.53,411.83 123.80,412.53 124.07,416.76 124.33,414.30 124.60,417.83 125.25,418.10 125.90,417.87 126.55,420.62 127.20,418.34 127.85,419.63 128.50,421.72 129.00,420.85 129.50,424.92 130.00,423.40 130.50,423.86 131.00,424.34 131.50,427.52 132.06,427.63 132.62,429.20 133.18,430.14 133.74,431.59 134.30,433.03 135.30,431.44 136.30,429.00 137.30,429.60 137.94,429.23 138.58,429.38 139.22,432.05 139.86,433.84 140.50,432.52 141.22,433.63 141.94,434.66 142.66,436.81 143.38,436.84 144.10,437.96 145.07,438.40 146.05,436.82 147.03,438.29 148.00,438.62 148.97,435.22 149.95,438.48 150.93,437.51 151.90,435.02 152.92,436.11 153.94,436.60 154.96,437.54 155.98,435.21 157.00,435.78 157.94,436.75 158.89,436.14 159.83,436.46 160.77,434.27 161.71,434.75 162.66,432.69 163.60,434.49 164.47,434.51 165.33,433.43 166.20,433.37 167.07,430.99 167.93,433.37 168.80,433.32 169.67,432.94 170.53,430.81 171.40,430.30" fill="none" stroke="#0a0a0a" stroke-width="1.1" stroke-linejoin="miter" stroke-miterlimit="5" />
<polyline points="76.80,444.22 77.17,437.19 77.53,436.62 77.90,446.09 78.27,439.10 78.63,439.01 79.00,444.39 79.57,441.87 80.14,447.16 80.71,441.39 81.29,448.37 81.86,442.77 82.43,445.64 83.00,448.98 83.62,446.89 84.25,449.27 84.88,447.48 85.50,441.60 86.12,449.45 86.75,446.95 87.38,444.57 88.00,443.65 88.62,449.84 89.25,447.51 89.88,450.90 90.50,449.52 91.12,451.37 91.75,447.86 92.38,449.20 93.00,448.53 93.61,445.42 94.23,451.99 94.84,446.20 95.46,450.66 96.07,452.40 96.69,449.75 97.30,448.48 97.39,447.71 97.47,446.82 97.56,445.55 97.65,444.56 97.73,443.91 97.82,442.94 97.91,442.42 97.99,441.43 98.08,440.47 98.17,439.54 98.25,438.71 98.34,437.45 98.43,436.76 98.51,435.66 98.60,435.28 98.65,433.78 98.71,433.40 98.76,431.97 98.82,431.49 98.87,430.34 98.93,429.48 98.98,428.88 99.04,427.39 99.09,426.51 99.15,426.20 99.20,425.01 99.25,423.80 99.31,423.52 99.36,422.59 99.42,421.09 99.47,420.40 99.53,419.29 99.58,418.51 99.64,417.81 99.69,416.58 99.75,416.05 99.80,414.69 99.87,413.85 99.95,413.38 100.02,412.17 100.09,411.26 100.17,410.46 100.24,409.46 100.32,408.47 100.39,407.30 100.46,406.87 100.54,406.12 100.61,405.20 100.68,404.06 100.76,402.93 100.83,402.01 100.91,401.32 100.98,400.38 101.05,399.07 101.13,398.24 101.20,397.40 101.33,396.59 101.45,395.89 101.58,394.76 101.71,393.52 101.83,393.16 101.96,391.97 102.09,391.12 102.21,390.00 102.34,389.23 102.47,388.29 102.59,387.64 102.72,386.26 102.85,385.66 102.97,384.49 103.10,384.43 103.50,381.36 103.90,381.16 104.30,380.42 104.70,380.40 105.10,377.57 105.66,378.16 106.21,376.64 106.77,376.16 107.33,376.07 107.89,376.90 108.44,374.65 109.00,374.46 109.29,372.76 109.58,372.60 109.86,371.13 110.15,370.04 110.44,369.69 110.72,368.94 111.01,367.12 111.30,366.54 111.37,367.84 111.44,368.49 111.51,369.37 111.59,370.16 111.66,371.13 111.73,372.48 111.80,373.69 111.87,374.65 111.94,375.25 112.01,375.87 112.09,377.03 112.16,378.30 112.23,379.28 112.30,380.10 112.35,380.72 112.40,381.84 112.45,382.72 112.50,383.74 112.55,384.40 112.60,385.79 112.65,386.66 112.70,387.06 112.75,388.07 112.80,389.39 112.85,389.88 112.90,391.26 112.95,391.87 113.00,392.91 113.05,393.83 113.10,394.40 113.15,395.36 113.20,396.25 113.25,397.47 113.30,398.39 113.35,398.90 113.40,400.35 113.45,400.93 113.50,401.72 113.55,402.77 113.60,404.06 113.65,404.68 113.70,405.64 113.75,406.76 113.80,407.70 113.85,408.47 113.90,408.82 114.05,410.51 114.19,412.84 114.34,413.23 114.48,413.17 114.63,413.00 114.78,413.99 114.92,416.58 115.07,416.69 115.22,415.08 115.36,419.17 115.51,420.96 115.65,421.37 115.80,422.73 116.21,423.61 116.62,422.69 117.03,424.68 117.43,423.61 117.84,423.14 118.25,425.12 118.66,425.75 119.07,429.43 119.47,429.12 119.88,429.26 120.29,430.45 120.70,428.97 121.28,431.64 121.86,433.18 122.44,432.55 123.02,432.65 123.60,434.17 124.18,434.57 124.76,437.01 125.34,435.29 125.92,435.84 126.50,437.64 127.28,439.98 128.06,440.85 128.84,440.97 129.62,442.82 130.40,440.78 131.18,439.82 131.96,442.50 132.74,442.88 133.52,442.25 134.30,445.07 135.14,444.00 135.99,443.95 136.83,444.79 137.67,448.06 138.51,444.18 139.36,446.23 140.20,447.30" fill="none" stroke="#0a0a0a" stroke-width="1.1" stroke-linejoin="miter" stroke-miterlimit="5" />
<polyline points="105.50,343.54 105.69,343.21 105.88,343.43 106.06,343.68 106.25,341.42 106.44,340.71 106.62,340.45 106.81,341.40 107.00,338.94 107.31,340.17 107.61,339.39 107.92,337.26 108.22,337.91 108.53,337.09 108.84,336.44 109.14,337.64 109.45,334.38 109.76,333.61 110.06,335.82 110.37,333.66 110.68,332.50 110.98,332.34 111.29,331.89 111.59,333.12 111.90,330.33 112.33,329.92 112.77,330.59 113.20,330.04 113.63,330.83 114.07,330.05 114.50,328.17 114.93,327.28 115.37,328.74 115.80,328.77 115.96,325.23 116.12,326.69 116.28,326.43 116.44,325.11 116.60,324.00" fill="none" stroke="#0a0a0a" stroke-width="1.5" stroke-linejoin="miter" stroke-miterlimit="5" />
<polyline points="103.30,382.40 103.52,382.19 103.75,381.86 103.97,382.85 104.20,381.24 104.42,381.26 104.65,379.09 104.88,379.59 105.10,379.89 105.49,378.56 105.88,379.16 106.27,378.49 106.66,376.66 107.05,375.20 107.44,376.66 107.83,374.53 108.22,373.72 108.61,375.10 109.00,374.89 109.21,374.28 109.42,373.98 109.63,371.42 109.84,370.51 110.05,370.01 110.26,371.64 110.47,368.79 110.68,368.31 110.89,367.35 111.10,368.00" fill="none" stroke="#0a0a0a" stroke-width="1.4" stroke-linejoin="miter" stroke-miterlimit="5" />
<polyline points="76.80,444.91 77.17,445.63 77.53,445.61 77.90,438.67 78.27,443.85 78.63,442.80 79.00,444.28 79.57,440.88 80.14,441.74 80.71,444.35 81.29,442.58 81.86,445.01 82.43,441.34 83.00,442.19 83.62,448.12 84.25,445.65 84.88,446.68 85.50,448.90 86.12,445.64 86.75,443.05 87.38,449.92 88.00,448.32 88.62,449.08 89.25,448.86 89.88,452.21 90.50,446.74 91.12,450.52 91.75,447.04 92.38,449.04 93.00,449.98 93.61,447.01 94.23,445.12 94.84,448.90 95.46,451.36 96.07,450.41 96.69,449.30 97.30,449.23 97.55,449.68 97.79,448.77 98.04,448.39 98.28,445.36 98.53,444.59 98.77,443.42 99.02,442.76 99.26,443.48 99.51,440.63 99.75,441.01 100.00,439.08 100.27,438.43 100.55,437.96 100.82,438.35 101.09,436.71 101.36,433.90 101.64,433.83 101.91,432.51 102.18,433.92 102.45,432.81 102.73,431.89 103.00,431.04 103.43,429.93 103.86,429.72 104.29,428.37 104.71,425.79 105.14,426.83 105.57,424.81 106.00,424.82 106.54,423.37 107.09,422.11 107.63,421.07 108.18,420.44 108.72,419.24 109.27,417.78 109.81,419.19 110.36,418.29 110.90,417.08 111.01,417.62 111.12,418.35 111.23,419.48 111.34,419.64 111.46,421.18 111.57,421.80 111.68,422.37 111.79,423.30 111.90,424.58 112.01,425.15 112.12,426.29 112.23,427.36 112.34,428.00 112.46,428.58 112.57,429.91 112.68,430.49 112.79,431.39 112.90,431.01 113.33,432.81 113.77,432.18 114.20,436.09 114.63,438.56 115.07,436.53 115.50,439.14 116.03,440.98 116.57,437.09 117.10,438.34 117.63,442.53 118.17,443.43 118.70,443.12 119.31,441.36 119.93,443.41 120.54,446.50 121.16,447.32 121.77,447.62 122.39,445.23 123.00,449.34 123.64,447.65 124.29,450.23 124.93,448.01 125.57,453.15 126.21,452.04 126.86,453.46 127.50,451.60 127.83,452.68 128.17,451.45 128.50,450.00" fill="none" stroke="#0a0a0a" stroke-width="1.1" stroke-linejoin="miter" stroke-miterlimit="5" />
<line x1="258.20" y1="306.80" x2="258.20" y2="461.85" stroke="#151515" stroke-width="1.35" />
<line x1="359.20" y1="306.80" x2="359.20" y2="461.85" stroke="#151515" stroke-width="1.35" />
<line x1="257.55" y1="461.20" x2="359.85" y2="461.20" stroke="#151515" stroke-width="1.35" />
<line x1="253.60" y1="461.20" x2="258.20" y2="461.20" stroke="#222" stroke-width="1.15" />
<text x="250.60" y="465.70" font-size="12" text-anchor="end" >50</text>
<line x1="253.60" y1="391.60" x2="258.20" y2="391.60" stroke="#222" stroke-width="1.15" />
<text x="250.60" y="396.10" font-size="12" text-anchor="end" >75</text>
<line x1="253.60" y1="322.00" x2="258.20" y2="322.00" stroke="#222" stroke-width="1.15" />
<text x="250.60" y="326.50" font-size="12" text-anchor="end" >100</text>
<line x1="359.20" y1="461.20" x2="363.60" y2="461.20" stroke="#222" stroke-width="1.15" />
<text x="366.00" y="465.70" font-size="12" text-anchor="start" >1.00</text>
<line x1="359.20" y1="393.20" x2="363.60" y2="393.20" stroke="#222" stroke-width="1.15" />
<text x="366.00" y="397.70" font-size="12" text-anchor="start" >1.04</text>
<line x1="359.20" y1="325.20" x2="363.60" y2="325.20" stroke="#222" stroke-width="1.15" />
<text x="366.00" y="329.70" font-size="12" text-anchor="start" >1.08</text>
<line x1="257.70" y1="461.20" x2="257.70" y2="463.70" stroke="#222" stroke-width="1.1" />
<line x1="272.20" y1="461.20" x2="272.20" y2="465.20" stroke="#222" stroke-width="1.1" />
<line x1="286.70" y1="461.20" x2="286.70" y2="463.70" stroke="#222" stroke-width="1.1" />
<line x1="301.20" y1="461.20" x2="301.20" y2="465.20" stroke="#222" stroke-width="1.1" />
<line x1="315.70" y1="461.20" x2="315.70" y2="463.70" stroke="#222" stroke-width="1.1" />
<line x1="330.20" y1="461.20" x2="330.20" y2="465.20" stroke="#222" stroke-width="1.1" />
<line x1="344.70" y1="461.20" x2="344.70" y2="463.70" stroke="#222" stroke-width="1.1" />
<line x1="359.20" y1="461.20" x2="359.20" y2="465.20" stroke="#222" stroke-width="1.1" />
<text x="271.10" y="477.40" font-size="12" text-anchor="middle" >–8</text>
<text x="300.10" y="477.40" font-size="12" text-anchor="middle" >–6</text>
<text x="329.10" y="477.40" font-size="12" text-anchor="middle" >–4</text>
<text x="311.20" y="493.00" font-size="12" text-anchor="middle" >log[Yoh], M</text>
<text transform="translate(210.60,413.30) rotate(-90)" font-size="12.3" text-anchor="start">cAMP (<tspan font-size="16.5" dx="-1.3" dy="1.1">●</tspan><tspan dx="-1.3" dy="-1.1">)</tspan></text>
<text transform="translate(223.60,387.40) rotate(-90)" font-size="12.4" text-anchor="middle">(FSK-stimulated cAMP)</text>
<text transform="translate(401.80,349.70) rotate(90)" font-size="12" text-anchor="start"><tspan font-style="italic">F</tspan><tspan font-size="9.5" dy="3.5">YFP</tspan><tspan dy="-3.5" dx="2.2">/</tspan><tspan font-style="italic">F</tspan><tspan font-size="9.5" dy="3.5">CFP</tspan><tspan dy="-3.5"> (</tspan><tspan font-size="13">◆</tspan>)</text>
<path d="M272.40,448.20 C273.17,447.93 275.53,447.25 277.00,446.60 C278.47,445.95 279.95,445.13 281.20,444.30 C282.45,443.47 283.53,442.57 284.50,441.60 C285.47,440.63 286.15,439.83 287.00,438.50 C287.85,437.17 288.78,435.55 289.60,433.60 C290.42,431.65 291.10,429.48 291.90,426.80 C292.70,424.12 293.58,420.75 294.40,417.50 C295.22,414.25 296.03,410.58 296.80,407.30 C297.57,404.02 298.28,400.73 299.00,397.80 C299.72,394.87 300.17,393.33 301.10,389.70 C302.03,386.07 303.37,381.53 304.60,376.00 C305.83,370.47 307.20,362.33 308.50,356.50 C309.80,350.67 311.10,345.22 312.40,341.00 C313.70,336.78 315.20,333.62 316.30,331.20 C317.40,328.78 318.03,327.87 319.00,326.50 C319.97,325.13 321.02,323.98 322.10,323.00 C323.18,322.02 324.35,321.28 325.50,320.60 C326.65,319.92 328.42,319.18 329.00,318.90" fill="none" stroke="#111" stroke-width="1.35" stroke-dasharray="5.3 2.2" stroke-dashoffset="2"/>
<path d="M272.20,443.30 C272.83,443.33 274.83,443.48 276.00,443.50 C277.17,443.52 277.87,443.57 279.20,443.40 C280.53,443.23 282.37,443.00 284.00,442.50 C285.63,442.00 287.50,441.15 289.00,440.40 C290.50,439.65 291.70,438.97 293.00,438.00 C294.30,437.03 295.73,435.80 296.80,434.60 C297.87,433.40 298.58,432.27 299.40,430.80 C300.22,429.33 300.97,427.60 301.70,425.80 C302.43,424.00 303.15,422.12 303.80,420.00 C304.45,417.88 304.98,415.60 305.60,413.10 C306.22,410.60 306.85,407.92 307.50,405.00 C308.15,402.08 308.68,399.77 309.50,395.60 C310.32,391.43 311.27,384.72 312.40,380.00 C313.53,375.28 315.17,371.22 316.30,367.30 C317.43,363.38 318.23,359.92 319.20,356.50 C320.17,353.08 321.13,349.62 322.10,346.80 C323.07,343.98 324.02,341.72 325.00,339.60 C325.98,337.48 327.00,335.50 328.00,334.10 C329.00,332.70 330.03,331.95 331.00,331.20 C331.97,330.45 332.63,330.03 333.80,329.60 C334.97,329.17 336.70,328.82 338.00,328.60 C339.30,328.38 340.60,328.47 341.60,328.30 C342.60,328.13 343.35,327.93 344.00,327.60 C344.65,327.27 345.25,326.52 345.50,326.30" fill="none" stroke="#111" stroke-width="1.35" />
<line x1="272.20" y1="433.60" x2="272.20" y2="454.50" stroke="#2c2c2c" stroke-width="1.0" />
<line x1="269.80" y1="433.60" x2="274.60" y2="433.60" stroke="#2c2c2c" stroke-width="1.0" />
<line x1="269.80" y1="454.50" x2="274.60" y2="454.50" stroke="#2c2c2c" stroke-width="1.0" />
<line x1="272.20" y1="442.70" x2="272.20" y2="461.00" stroke="#2c2c2c" stroke-width="1.0" />
<line x1="269.70" y1="442.70" x2="274.70" y2="442.70" stroke="#2c2c2c" stroke-width="1.0" />
<line x1="269.70" y1="461.00" x2="274.70" y2="461.00" stroke="#2c2c2c" stroke-width="1.0" />
<circle cx="272.20" cy="447.40" r="1.9" fill="#111"/>
<line x1="294.40" y1="424.80" x2="294.40" y2="437.50" stroke="#2c2c2c" stroke-width="1.0" />
<line x1="292.00" y1="424.80" x2="296.80" y2="424.80" stroke="#2c2c2c" stroke-width="1.0" />
<line x1="292.00" y1="437.50" x2="296.80" y2="437.50" stroke="#2c2c2c" stroke-width="1.0" />
<polygon points="292.50,431.10 294.40,429.20 296.30,431.10 294.40,433.00" fill="#111"/>
<line x1="301.70" y1="378.00" x2="301.70" y2="405.00" stroke="#2c2c2c" stroke-width="1.0" />
<line x1="299.30" y1="378.00" x2="304.10" y2="378.00" stroke="#2c2c2c" stroke-width="1.0" />
<line x1="299.30" y1="405.00" x2="304.10" y2="405.00" stroke="#2c2c2c" stroke-width="1.0" />
<circle cx="301.70" cy="391.30" r="1.5" fill="#111"/>
<line x1="316.30" y1="322.40" x2="316.30" y2="336.00" stroke="#2c2c2c" stroke-width="1.0" />
<line x1="313.90" y1="322.40" x2="318.70" y2="322.40" stroke="#2c2c2c" stroke-width="1.0" />
<line x1="313.90" y1="336.00" x2="318.70" y2="336.00" stroke="#2c2c2c" stroke-width="1.0" />
<circle cx="316.30" cy="328.80" r="1.9" fill="#111"/>
<circle cx="330.30" cy="321.80" r="1.5" fill="#111"/>
<line x1="316.30" y1="355.60" x2="316.30" y2="379.00" stroke="#2c2c2c" stroke-width="1.0" />
<line x1="313.90" y1="355.60" x2="318.70" y2="355.60" stroke="#2c2c2c" stroke-width="1.0" />
<line x1="313.90" y1="379.00" x2="318.70" y2="379.00" stroke="#2c2c2c" stroke-width="1.0" />
<polygon points="314.40,368.20 316.30,366.30 318.20,368.20 316.30,370.10" fill="#111"/>
<line x1="338.30" y1="323.40" x2="338.30" y2="335.70" stroke="#2c2c2c" stroke-width="1.0" />
<line x1="335.90" y1="323.40" x2="340.70" y2="323.40" stroke="#2c2c2c" stroke-width="1.0" />
<line x1="335.90" y1="335.70" x2="340.70" y2="335.70" stroke="#2c2c2c" stroke-width="1.0" />
<polygon points="336.40,329.60 338.30,327.70 340.20,329.60 338.30,331.50" fill="#111"/>
<polygon points="343.60,325.00 345.50,323.10 347.40,325.00 345.50,326.90" fill="#111"/>
</svg>
</body></html>
